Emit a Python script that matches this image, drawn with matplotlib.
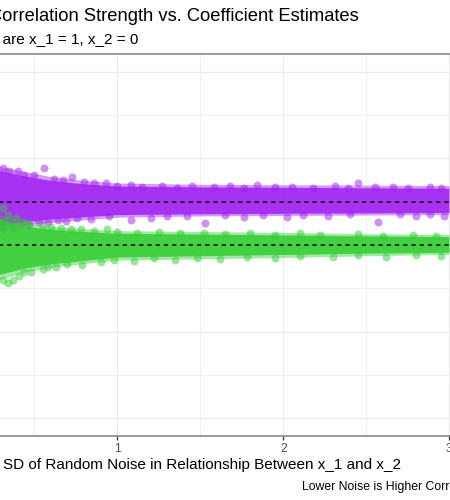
import numpy as np
import matplotlib
matplotlib.use('Agg')
import matplotlib.pyplot as plt

plt.rcParams['font.family'] = ['Liberation Sans', 'DejaVu Sans']

# dense core of each point cloud and its lighter fringe
sd_knots = [0.28, 0.30, 0.45, 0.60, 0.80, 1.00, 1.50, 2.00, 2.50, 3.00]
x1_core_hi = [1.72, 1.70, 1.58, 1.48, 1.40, 1.35, 1.33, 1.32, 1.31, 1.30]
x1_core_lo = [0.42, 0.44, 0.53, 0.59, 0.64, 0.69, 0.71, 0.72, 0.73, 0.74]
x1_edge_hi = [1.82, 1.80, 1.68, 1.57, 1.48, 1.42, 1.39, 1.38, 1.37, 1.36]
x1_edge_lo = [0.32, 0.34, 0.45, 0.51, 0.57, 0.63, 0.66, 0.67, 0.68, 0.69]
x2_core_hi = [0.62, 0.58, 0.42, 0.35, 0.30, 0.26, 0.24, 0.22, 0.20, 0.18]
x2_core_lo = [-0.72, -0.68, -0.54, -0.45, -0.37, -0.29, -0.26, -0.23, -0.20, -0.18]
x2_edge_hi = [0.72, 0.68, 0.50, 0.42, 0.36, 0.32, 0.30, 0.28, 0.25, 0.23]
x2_edge_lo = [-0.84, -0.80, -0.63, -0.53, -0.44, -0.36, -0.33, -0.30, -0.26, -0.23]

# single estimates along and outside the edges of the clouds
x1_pts_sd = [0.31, 0.35, 0.40, 0.44, 0.56, 0.62, 0.73, 0.80, 0.93, 1.08, 1.27, 1.45, 1.68, 1.84,
             2.05, 2.31, 2.45, 2.66, 2.88,
             1.15, 1.36, 1.58, 1.76, 1.95, 2.18, 2.39, 2.55, 2.75, 2.95, 0.50, 0.67, 0.86, 1.00,
             0.31, 0.37, 0.47, 0.58, 0.69, 0.84, 1.08, 1.20, 1.53, 1.76, 2.02, 2.27, 2.57, 2.80, 2.97,
             0.42, 0.53, 0.64, 0.76, 0.95, 1.30, 1.42, 1.65, 1.88, 2.12, 2.40, 2.70, 2.88]
x1_pts_est = [1.78, 1.72, 1.70, 1.62, 1.78, 1.52, 1.57, 1.45, 1.42, 1.38, 1.37, 1.36, 1.37, 1.39,
              1.35, 1.36, 1.43, 1.35, 1.34,
              1.33, 1.32, 1.34, 1.31, 1.33, 1.32, 1.31, 1.33, 1.32, 1.31, 1.62, 1.50, 1.42, 1.37,
              0.36, 0.40, 0.46, 0.52, 0.56, 0.60, 0.58, 0.63, 0.51, 0.64, 0.65, 0.66, 0.53, 0.67, 0.68,
              0.47, 0.52, 0.58, 0.62, 0.66, 0.68, 0.67, 0.69, 0.70, 0.70, 0.71, 0.72, 0.72]
x2_pts_sd = [0.31, 0.34, 0.39, 0.46, 0.55, 0.66, 0.78, 0.94, 1.00, 1.25, 1.52, 1.80, 2.10, 2.45, 2.78,
             0.43, 0.60, 0.72, 0.86, 1.12, 1.38, 1.65, 1.95, 2.22, 2.60, 2.92,
             0.34, 0.37, 0.41, 0.48, 0.55, 0.63, 0.79, 0.90, 1.10, 1.35, 1.62, 1.95, 2.30, 2.62, 2.95,
             0.31, 0.44, 0.58, 0.70, 0.98, 1.22, 1.48, 1.78, 2.10, 2.45, 2.80]
x2_pts_est = [0.85, 0.70, 0.62, 0.50, 0.44, 0.40, 0.36, 0.37, 0.30, 0.31, 0.28, 0.27, 0.27, 0.25, 0.23,
              0.52, 0.41, 0.36, 0.33, 0.28, 0.27, 0.25, 0.24, 0.23, 0.21, 0.20,
              -0.88, -0.80, -0.72, -0.62, -0.56, -0.50, -0.46, -0.40, -0.36, -0.34, -0.33, -0.30,
              -0.28, -0.27, -0.25,
              -0.80, -0.62, -0.50, -0.44, -0.34, -0.31, -0.29, -0.27, -0.26, -0.24, -0.22]

true_values = [1, 0]
x_ticks = [1, 2, 3]

title = 'Correlation Strength vs. Coefficient Estimates'
subtitle = 'True values are x_1 = 1, x_2 = 0'
xlabel = 'SD of Random Noise in Relationship Between x_1 and x_2'
caption = 'Lower Noise is Higher Correlation'

purple = '#A020F0'
green = '#32CD32'

W, H = 450, 500
fig = plt.figure(figsize=(W / 100, H / 100), dpi=100)
# the reference is a crop: the panel runs past both sides of the image
ax = fig.add_axes([-72 / W, (H - 436) / H, 548 / W, 382 / H])
ax.set_xlim(-0.14, 3.16)
ax.set_ylim(-4.41, 4.41)

ax.set_xticks(x_ticks)
ax.set_xticks([0.5, 1.5, 2.5], minor=True)
ax.set_yticks([-4, -2, 0, 2, 4])
ax.set_yticks([-3, -1, 1, 3], minor=True)
ax.grid(True, which='major', color='#EBEBEB', linewidth=0.9)
ax.grid(True, which='minor', color='#F0F0F0', linewidth=0.8)
ax.set_axisbelow(True)

for s in ['left', 'right']:
    ax.spines[s].set_visible(False)
for s in ['top', 'bottom']:
    ax.spines[s].set_color('#7F7F7F')
    ax.spines[s].set_linewidth(1.1)
ax.tick_params(axis='x', which='major', length=3, width=0.9, color='#333333',
               labelsize=8.8, labelcolor='#4D4D4D', pad=2)
ax.tick_params(axis='x', which='minor', length=0)
ax.tick_params(axis='y', which='both', length=0, labelleft=False)

ax.fill_between(sd_knots, x1_edge_lo, x1_edge_hi, color=purple, alpha=0.45, linewidth=0)
ax.fill_between(sd_knots, x1_core_lo, x1_core_hi, color=purple, alpha=0.85, linewidth=0)
ax.scatter(x1_pts_sd, x1_pts_est, s=33, color=purple, alpha=0.5, linewidths=0)
ax.fill_between(sd_knots, x2_edge_lo, x2_edge_hi, color=green, alpha=0.45, linewidth=0)
ax.fill_between(sd_knots, x2_core_lo, x2_core_hi, color=green, alpha=0.85, linewidth=0)
ax.scatter(x2_pts_sd, x2_pts_est, s=33, color=green, alpha=0.5, linewidths=0)

for v in true_values:
    ax.axhline(v, color='black', linewidth=1.1, linestyle=(0, (2.7, 2.7)))

fig.text(359 / W, 1 - 21 / H, title, ha='right', va='baseline', fontsize=13.2, color='black')
fig.text(138 / W, 1 - 43 / H, subtitle, ha='right', va='baseline', fontsize=11, color='black')
fig.text(3 / W, 1 - 469 / H, xlabel, ha='left', va='baseline', fontsize=11, color='black')
fig.text(302 / W, 1 - 490 / H, caption, ha='left', va='baseline', fontsize=8.8, color='black')

fig.savefig('out.png', dpi=100)
